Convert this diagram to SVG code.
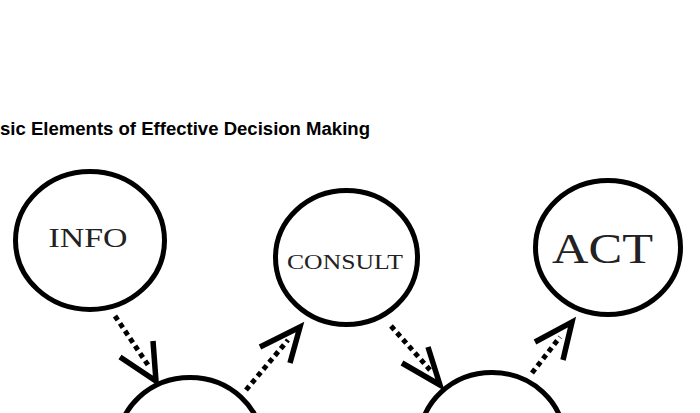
<svg xmlns="http://www.w3.org/2000/svg" width="700" height="413" viewBox="0 0 700 413">
<style>
.node ellipse{fill:#fff;stroke:#000;stroke-width:5}
.lbl{font-family:"Liberation Serif","DejaVu Serif",serif;fill:#222;text-anchor:middle}
.dots{fill:none;stroke:#000;stroke-width:5;stroke-dasharray:5 4}
.head{fill:none;stroke:#000;stroke-width:5.5;stroke-linejoin:miter;stroke-linecap:butt}
.title{font-family:"Liberation Sans",Arial,sans-serif;font-weight:bold;font-size:18px;fill:#000}
</style>
<rect width="700" height="413" fill="#fff"/>
<text class="title" x="0" y="135" textLength="370" lengthAdjust="spacingAndGlyphs">sic Elements of Effective Decision Making</text>
<g id="info" class="node">
<ellipse cx="90" cy="240.5" rx="74.5" ry="69"/>
<text class="lbl" x="88" y="247" font-size="27" textLength="79" lengthAdjust="spacingAndGlyphs">INFO</text>
</g>
<g id="consult" class="node">
<ellipse cx="346.5" cy="257.5" rx="71" ry="67"/>
<text class="lbl" x="345" y="269" font-size="21" textLength="116" lengthAdjust="spacingAndGlyphs">CONSULT</text>
</g>
<g id="act" class="node">
<ellipse cx="608" cy="247.5" rx="72.5" ry="67"/>
<text class="lbl" x="602.5" y="263" font-size="42" textLength="101" lengthAdjust="spacingAndGlyphs">ACT</text>
</g>
<g id="step2" class="node">
<ellipse cx="190" cy="444.5" rx="72" ry="67"/>
</g>
<g id="step4" class="node">
<ellipse cx="492" cy="439.5" rx="72" ry="67"/>
</g>
<g id="connectors">
<line class="dots" x1="115" y1="316" x2="150" y2="368"/>
<polyline class="head" points="120,357 156,381 153,341"/>
<line class="dots" x1="246" y1="390" x2="288" y2="340"/>
<polyline class="head" points="260,347 300,327 290,363"/>
<line class="dots" x1="391" y1="326" x2="430" y2="370"/>
<polyline class="head" points="402,363 440,385 428,347"/>
<line class="dots" x1="532" y1="373" x2="560" y2="337"/>
<polyline class="head" points="535,342 572,322 563,360"/>
</g>
</svg>
